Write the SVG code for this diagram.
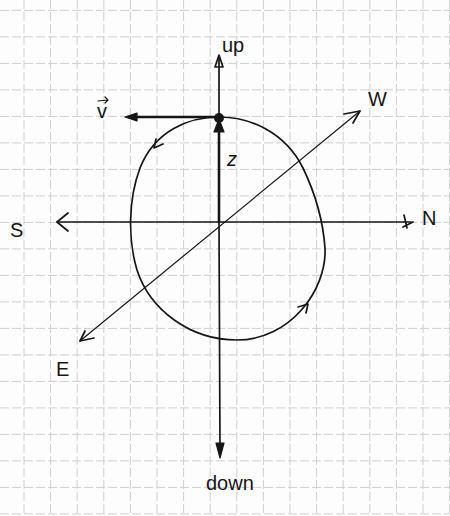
<svg xmlns="http://www.w3.org/2000/svg" width="450" height="516" viewBox="0 0 450 516">
<style>
.grid line{stroke:#cfcfcf;stroke-width:1;stroke-dasharray:9 3}
.ln{stroke:#161616;fill:none;stroke-linecap:round;stroke-linejoin:round}
.thin{stroke-width:1.2}
.med{stroke-width:1.7}
.thick{stroke-width:2.6}
.fill{fill:#161616;stroke:#161616;stroke-width:1.2;stroke-linejoin:round}
text{font-family:"Liberation Sans","DejaVu Sans",sans-serif;fill:#161616;font-size:20px}
</style>
<rect width="450" height="516" fill="#fdfdfd"/>
<g class="grid" id="grid">
<line x1="24" y1="0" x2="24" y2="516"/><line x1="50.6" y1="0" x2="50.6" y2="516"/><line x1="77.2" y1="0" x2="77.2" y2="516"/><line x1="103.8" y1="0" x2="103.8" y2="516"/><line x1="130.4" y1="0" x2="130.4" y2="516"/><line x1="157" y1="0" x2="157" y2="516"/><line x1="183.6" y1="0" x2="183.6" y2="516"/><line x1="210.2" y1="0" x2="210.2" y2="516"/><line x1="236.8" y1="0" x2="236.8" y2="516"/><line x1="263.4" y1="0" x2="263.4" y2="516"/><line x1="290" y1="0" x2="290" y2="516"/><line x1="316.6" y1="0" x2="316.6" y2="516"/><line x1="343.2" y1="0" x2="343.2" y2="516"/><line x1="369.8" y1="0" x2="369.8" y2="516"/><line x1="396.4" y1="0" x2="396.4" y2="516"/><line x1="423" y1="0" x2="423" y2="516"/><line x1="449.6" y1="0" x2="449.6" y2="516"/>
<line x1="0" y1="10.4" x2="450" y2="10.4"/><line x1="0" y1="36.9" x2="450" y2="36.9"/><line x1="0" y1="63.4" x2="450" y2="63.4"/><line x1="0" y1="89.9" x2="450" y2="89.9"/><line x1="0" y1="116.4" x2="450" y2="116.4"/><line x1="0" y1="142.9" x2="450" y2="142.9"/><line x1="0" y1="169.4" x2="450" y2="169.4"/><line x1="0" y1="195.9" x2="450" y2="195.9"/><line x1="0" y1="222.4" x2="450" y2="222.4"/><line x1="0" y1="248.9" x2="450" y2="248.9"/><line x1="0" y1="275.4" x2="450" y2="275.4"/><line x1="0" y1="301.9" x2="450" y2="301.9"/><line x1="0" y1="328.4" x2="450" y2="328.4"/><line x1="0" y1="354.9" x2="450" y2="354.9"/><line x1="0" y1="381.4" x2="450" y2="381.4"/><line x1="0" y1="407.9" x2="450" y2="407.9"/><line x1="0" y1="434.4" x2="450" y2="434.4"/><line x1="0" y1="460.9" x2="450" y2="460.9"/><line x1="0" y1="487.4" x2="450" y2="487.4"/><line x1="0" y1="513.9" x2="450" y2="513.9"/>
</g>
<g id="connectors">
<path class="ln med" d="M219,57 L219,118"/>
<path class="ln med" d="M219,222 L220,450"/>
<path class="ln med" d="M219,55 L215,67 L223,67 Z"/>
<path class="fill" d="M220,458 L216,443 L224,443 Z"/>
<path class="ln med" d="M57,222 L411,222"/>
<path class="ln med" d="M68,213 L57,222 L68,231"/>
<path class="ln med" d="M404,215 L407,228 M403,227 L413,222"/>
<path class="ln thin" d="M80,341 L360,111"/>
<path class="ln med" d="M85,331 L80,341 L94,338"/>
<path class="ln med" d="M344,114 L360,111 L353,123"/>
<path class="ln med" d="M219,117 C250,117 285,132 303,168 C316,195 323,220 325,248 C327,290 290,340 237,340 C190,340 150,310 137,270 C128,240 128,200 140,168 C155,130 190,117 219,117 Z"/>
<path class="ln med" d="M156,139 L154,148 L163,144"/>
<path class="ln med" d="M298,307 L308,304 L306,313"/>
<path class="ln thick" d="M219,222 L219,128"/>
<path class="fill" d="M219,119 L214,132 L224,132 Z"/>
<path class="ln thick" d="M219,117 L132,117"/>
<path class="fill" d="M125,117 L137,113 L137,121 Z"/>
<circle cx="219" cy="118" r="5" fill="#161616"/>
</g>
<g id="labels">
<text x="222" y="52">up</text>
<text x="368" y="106">W</text>
<text x="422" y="225">N</text>
<text x="10" y="237">S</text>
<text x="56" y="376">E</text>
<text x="206" y="490">down</text>
<text x="227" y="166" font-style="italic" font-size="18">z</text>
<text x="97" y="118" font-size="19">v</text>
<path class="ln thin" d="M98,101 L108,100 M105,97 L108,100 L105,103"/>
</g>
</svg>
